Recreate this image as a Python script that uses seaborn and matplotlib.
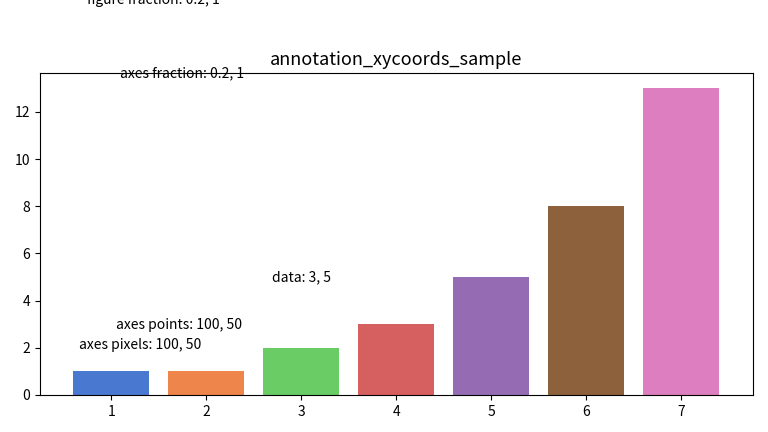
import matplotlib
matplotlib.use("Agg")
import matplotlib.pyplot as plt
import seaborn as sns
import pandas as pd

x_vals = [1, 2, 3, 4, 5, 6, 7]
heights = [1, 1, 2, 3, 5, 8, 13]

plt.rcParams['font.family'] = ['Noto Sans CJK JP', 'DejaVu Sans']

df = pd.DataFrame({'x': x_vals, 'y': heights})

fig = plt.figure(figsize=(7.68, 4.32), dpi=100)
ax = fig.add_axes([0.052, 0.086, 0.928, 0.745])
sns.barplot(data=df, x='x', y='y', hue='x', palette='muted', legend=False,
            native_scale=True, width=0.8, saturation=1, ax=ax)
ax.set_xlim(0.25, 7.75)
ax.set_xlabel('')
ax.set_ylabel('')
ax.set_title('annotation_xycoords_sample', fontsize=13)

# the figure-fraction label sits on the top edge, half cut off as in the original
kw = dict(ha='center', va='center', fontsize=10)
ax.annotate('figure fraction: 0.2, 1', xy=(0.2, 1), xycoords='figure fraction', **kw)
ax.annotate('axes fraction: 0.2, 1', xy=(0.2, 1), xycoords='axes fraction', **kw)
ax.annotate('data: 3, 5', xy=(3, 5), xycoords='data', **kw)
ax.annotate('axes pixels: 100, 50', xy=(100, 50), xycoords='axes pixels', **kw)
ax.annotate('axes points: 100, 50', xy=(100, 50), xycoords='axes points', **kw)

fig.savefig('out.png', dpi=100)
